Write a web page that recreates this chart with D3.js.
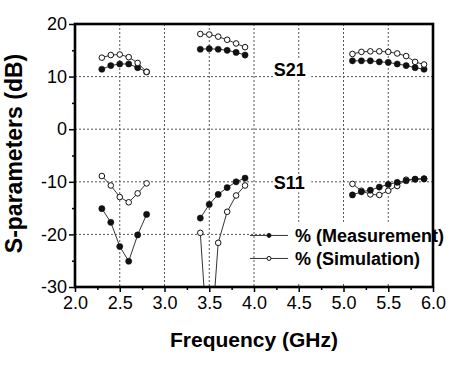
<!DOCTYPE html>
<meta charset="utf-8">
<head>
<style>
  body { margin: 0; background: #fff; }
  text { font-family: Arial, "Liberation Sans", sans-serif; fill: #000; }
  .axis path { display: none; }
  .axis line { stroke: #000; stroke-width: 1.5; }
  .axis text { font-size: 18px; }
  .grid line { stroke: #555; stroke-width: 1; stroke-dasharray: 2,2; }
</style>
</head>
<body>
<script src="https://d3js.org/d3.v7.min.js"></script>
<script>
// frequencies of the three bands (GHz)
var freq1 = [2.3, 2.4, 2.5, 2.6, 2.7, 2.8];
var freq2 = [3.4, 3.5, 3.6, 3.7, 3.8, 3.9];
var freq3 = [5.1, 5.2, 5.3, 5.4, 5.5, 5.6, 5.7, 5.8, 5.9];

// S21 (dB)
var s21Meas1 = [11.4, 12.1, 12.4, 12.4, 11.7, 10.9];
var s21Sim1  = [13.6, 14.1, 14.2, 13.7, 12.6, 10.9];
var s21Meas2 = [15.2, 15.3, 15.2, 15.0, 14.6, 14.1];
var s21Sim2  = [18.1, 18.0, 17.6, 17.0, 16.3, 15.6];
var s21Meas3 = [13.0, 13.0, 13.0, 12.8, 12.7, 12.4, 12.1, 11.7, 11.4];
var s21Sim3  = [14.3, 14.7, 14.8, 14.8, 14.7, 14.4, 13.9, 12.8, 12.3];

// S11 (dB)
var s11Meas1 = [-15.1, -17.7, -22.3, -25.1, -20.1, -16.2];
var s11Sim1  = [-8.9, -10.7, -12.9, -13.9, -12.2, -10.3];
var s11Meas2 = [-16.9, -14.3, -12.4, -11.1, -10.0, -9.3];
var s11Sim2  = [-19.7, -45, -21.6, -15.7, -12.6, -10.7];
var s11Meas3 = [-12.5, -11.9, -11.6, -11.0, -10.5, -10.1, -9.8, -9.5, -9.45];
var s11Sim3  = [-10.4, -11.7, -12.4, -12.5, -11.7, -10.8, -9.6, -9.5, -9.4];

var xTicks = [2.0, 2.5, 3.0, 3.5, 4.0, 4.5, 5.0, 5.5, 6.0];
var yTicks = [-30, -20, -10, 0, 10, 20];
var legendLabels = ["% (Measurement)", "% (Simulation)"];

// draw order (sim on top except the last S11 band)
var series = [
  {f: freq1, v: s21Meas1, sim: false}, {f: freq1, v: s21Sim1, sim: true},
  {f: freq2, v: s21Meas2, sim: false}, {f: freq2, v: s21Sim2, sim: true},
  {f: freq3, v: s21Meas3, sim: false}, {f: freq3, v: s21Sim3, sim: true},
  {f: freq1, v: s11Meas1, sim: false}, {f: freq1, v: s11Sim1, sim: true},
  {f: freq2, v: s11Meas2, sim: false}, {f: freq2, v: s11Sim2, sim: true},
  {f: freq3, v: s11Sim3, sim: true},   {f: freq3, v: s11Meas3, sim: false}
];

var margin = {top: 24, right: 41, bottom: 78, left: 75},
    width = 474 - margin.left - margin.right,
    height = 365 - margin.top - margin.bottom;

var x = d3.scaleLinear().domain([2, 6]).range([0, width]);
var y = d3.scaleLinear().domain([-30, 20]).range([height, 0]);

var svg = d3.select("body").append("svg")
    .attr("width", 474)
    .attr("height", 365)
  .append("g")
    .attr("transform", "translate(" + margin.left + "," + margin.top + ")");

svg.append("defs").append("clipPath").attr("id", "clip")
  .append("rect").attr("width", width).attr("height", height);

// grid
svg.append("g").attr("class", "grid")
  .selectAll("line").data(xTicks.slice(1, -1)).enter().append("line")
    .attr("x1", function(d) { return x(d); }).attr("x2", function(d) { return x(d); })
    .attr("y1", 0).attr("y2", height);
svg.append("g").attr("class", "grid")
  .selectAll("line").data(yTicks.slice(1, -1)).enter().append("line")
    .attr("y1", function(d) { return y(d); }).attr("y2", function(d) { return y(d); })
    .attr("x1", 0).attr("x2", width);

// white boxes behind the labels and legend
function blank(x0, y0, x1, y1) {
  svg.append("rect").attr("x", x(x0)).attr("y", y(y0))
    .attr("width", x(x1) - x(x0)).attr("height", y(y1) - y(y0))
    .attr("fill", "#fff");
}
blank(4.22, 13.2, 4.64, 9.6);
blank(4.22, -8.6, 4.64, -12.0);
blank(4.19, -17.6, 6.0, -29.4);

// S21 / S11 labels
svg.append("text").attr("x", x(4.22)).attr("y", y(10.2))
  .style("font-size", "18px").style("font-weight", "bold").text("S21");
svg.append("text").attr("x", x(4.22)).attr("y", y(-11.4))
  .style("font-size", "18px").style("font-weight", "bold").text("S11");

// curves
var line = d3.line()
  .x(function(d) { return x(d[0]); })
  .y(function(d) { return y(d[1]); });

var plot = svg.append("g").attr("clip-path", "url(#clip)");

series.forEach(function(s) {
  var pts = s.f.map(function(f, i) { return [f, s.v[i]]; });
  var g = plot.append("g");
  g.append("path").datum(pts)
    .attr("d", line)
    .attr("fill", "none")
    .attr("stroke", "#333")
    .attr("stroke-width", 1);
  g.selectAll("circle").data(pts).enter().append("circle")
    .attr("cx", function(d) { return x(d[0]); })
    .attr("cy", function(d) { return y(d[1]); })
    .attr("r", s.sim ? 2.8 : 3.1)
    .attr("fill", s.sim ? "#fff" : "#111")
    .attr("stroke", "#111")
    .attr("stroke-width", s.sim ? 1 : 0.5);
});

// legend
var legend = svg.selectAll(".legend").data(legendLabels).enter().append("g")
    .attr("transform", function(d, i) { return "translate(" + (x(4.0) - 4) + "," + (y(-20.2) + i * 23) + ")"; });
legend.append("line").attr("x1", 0).attr("x2", 38)
  .attr("stroke", "#333").attr("stroke-width", 1);
legend.append("circle").attr("cx", 19).attr("r", 2)
  .attr("fill", function(d, i) { return i ? "#fff" : "#111"; })
  .attr("stroke", "#111").attr("stroke-width", 1);
legend.append("text").attr("x", 45).attr("dy", "0.35em")
  .style("font-size", "18px").style("font-weight", "bold")
  .text(function(d) { return d; });

// axes
var xMinor = d3.range(2, 6.01, 0.25).filter(function(d) { return Math.abs(d * 2 - Math.round(d * 2)) > 1e-6; });
var yMinor = d3.range(-25, 20, 10);

svg.append("g").attr("class", "axis")
    .attr("transform", "translate(0," + height + ")")
    .call(d3.axisBottom(x).tickValues(xMinor).tickSize(3).tickFormat(""));
svg.append("g").attr("class", "x axis")
    .attr("transform", "translate(0," + height + ")")
    .call(d3.axisBottom(x).tickValues(xTicks).tickSize(5).tickPadding(4)
      .tickFormat(function(d) { return d.toFixed(1); }));

svg.append("g").attr("class", "axis")
    .call(d3.axisLeft(y).tickValues(yMinor).tickSize(3).tickFormat(""));
svg.append("g").attr("class", "y axis")
    .call(d3.axisLeft(y).tickValues(yTicks).tickSize(6).tickPadding(2)
      .tickFormat(function(d) { return String(d); }));

// frame
svg.append("rect")
    .attr("width", width).attr("height", height)
    .attr("fill", "none")
    .attr("stroke", "#000")
    .attr("stroke-width", 2.6);

// axis titles
svg.append("text")
    .attr("x", width / 2).attr("y", height + 60)
    .attr("text-anchor", "middle")
    .style("font-size", "21px").style("font-weight", "bold")
    .text("Frequency (GHz)");

svg.append("text")
    .attr("transform", "rotate(-90)")
    .attr("x", -height / 2 + 2).attr("y", -53)
    .attr("text-anchor", "middle")
    .style("font-size", "23px").style("font-weight", "bold")
    .text("S-parameters (dB)");
</script>
</body>
